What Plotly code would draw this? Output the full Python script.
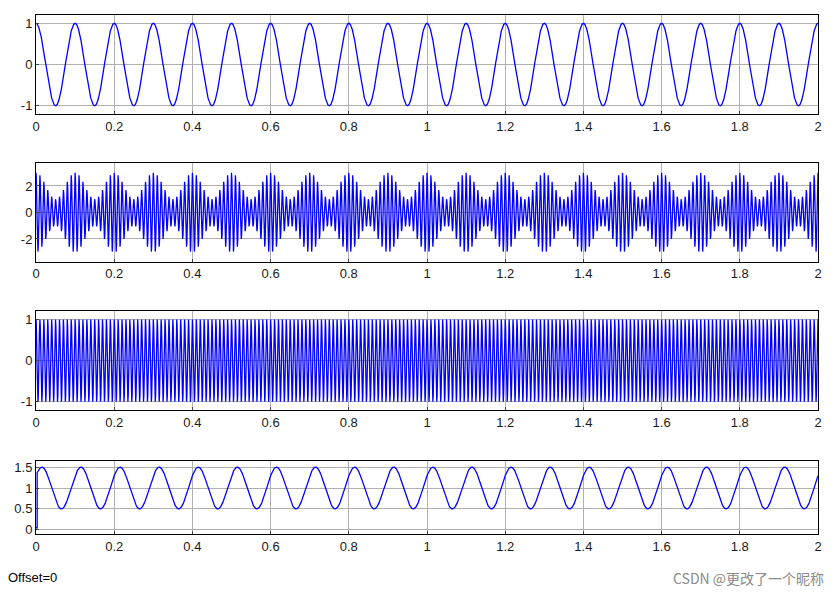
import numpy as np
import plotly.graph_objects as go
from plotly.subplots import make_subplots

# signal parameters
t_end = 2.0
msg_freq = 10      # Hz, 20 cycles over 2 s
carrier_freq = 100 # Hz
am_offset = 2
demod_offset = 1.0
demod_amp = 0.5
demod_delay = 0.015
x_ticks = [0, 0.2, 0.4, 0.6, 0.8, 1, 1.2, 1.4, 1.6, 1.8, 2]
x_labels = ["0", "0.2", "0.4", "0.6", "0.8", "1", "1.2", "1.4", "1.6", "1.8", "2"]

t = np.linspace(0, t_end, 40001)
msg = np.cos(2 * np.pi * msg_freq * t)
carrier = np.cos(2 * np.pi * carrier_freq * t)
am = (am_offset + msg) * carrier
demod = demod_offset + demod_amp * np.cos(2 * np.pi * msg_freq * (t - demod_delay))
demod[t < 0.003] = 0.05

fig = make_subplots(rows=4, cols=1)
for i, y in enumerate([msg, am, carrier, demod], start=1):
    fig.add_trace(go.Scatter(x=t, y=y, mode="lines", line=dict(color="blue", width=1.3),
                             showlegend=False), row=i, col=1)

domains = [[0.809, 1], [0.525, 0.714], [0.239, 0.429], [0, 0.141]]
yranges = [[-1.2, 1.2], [-3.7, 3.7], [-1.2, 1.2], [-0.1, 1.65]]
yticks = [[-1, 0, 1], [-2, 0, 2], [-1, 0, 1], [0, 0.5, 1, 1.5]]
ylabels = [["-1", "0", "1"], ["-2", "0", "2"], ["-1", "0", "1"], ["0", "0.5", "1", "1.5"]]
for i in range(4):
    fig.update_xaxes(row=i + 1, col=1, range=[0, 2], tickvals=x_ticks, ticktext=x_labels,
                     showline=True, mirror=True, linecolor="black", gridcolor="#b0b0b0",
                     ticks="inside", ticklen=3, zeroline=False)
    fig.update_yaxes(row=i + 1, col=1, domain=domains[i], range=yranges[i],
                     tickvals=yticks[i], ticktext=ylabels[i],
                     showline=True, mirror=True, linecolor="black", gridcolor="#b0b0b0",
                     ticks="inside", ticklen=3, zeroline=False)

fig.add_annotation(text="Offset=0", x=0, y=0, xref="paper", yref="paper", xanchor="left",
                   yanchor="top", xshift=-30, yshift=-34, showarrow=False,
                   font=dict(size=13, color="black"))
fig.add_annotation(text="CSDN @更改了一个昵称", x=1, y=0, xref="paper", yref="paper",
                   xanchor="right", yanchor="top", xshift=8, yshift=-32, showarrow=False,
                   font=dict(size=14, color="#8a8a8a", family="Noto Sans CJK SC"))
fig.update_layout(width=840, height=594, margin=dict(l=24, r=30, t=6, b=68),
                  plot_bgcolor="white", paper_bgcolor="white",
                  font=dict(family="Liberation Sans", size=13, color="#1a1a1a"))
fig.write_html("out.html")
